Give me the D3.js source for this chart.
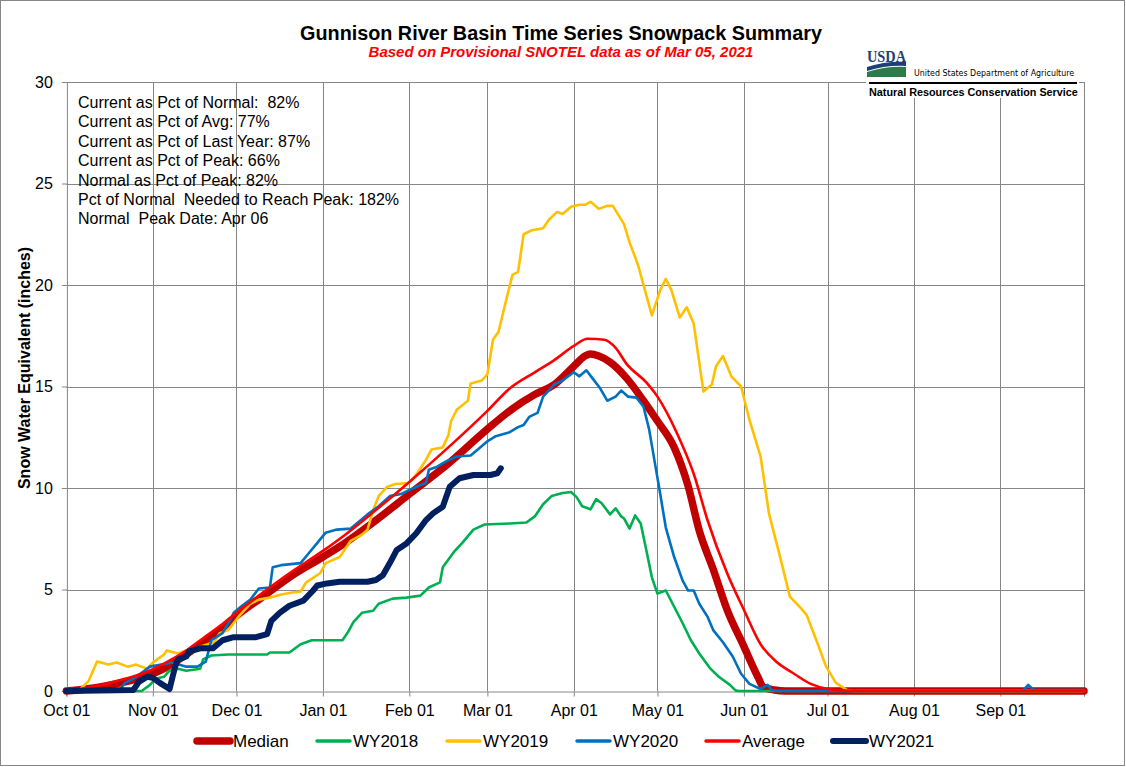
<!DOCTYPE html>
<html>
<head>
<meta charset="utf-8">
<script src="https://cdn.jsdelivr.net/npm/d3@7"></script>
<style>
  body { margin: 0; background: #fff; }
  svg { font-family: "Liberation Sans", Arial, sans-serif; }
  .axis path, .axis line { stroke: #868686; }
  .axis text { font-size: 16px; fill: #000; }
  .grid line { stroke: #868686; stroke-width: 1; }
  .line { fill: none; stroke-linejoin: round; stroke-linecap: round; }
</style>
</head>
<body>
<div id="graph"></div>
<script>
// days counted from Oct 01, snow water equivalent in inches
var monthDays = [0, 31, 61, 92, 123, 151, 182, 212, 243, 273, 304, 335];
var monthLabels = ["Oct 01", "Nov 01", "Dec 01", "Jan 01", "Feb 01", "Mar 01", "Apr 01", "May 01", "Jun 01", "Jul 01", "Aug 01", "Sep 01"];
var yTicks = [0, 5, 10, 15, 20, 25, 30];

var median = [[0,0],[7,0.1],[14,0.25],[21,0.45],[28,0.7],[35,1.1],[42,1.7],[49,2.4],[56,3.1],[61,3.7],[70,4.6],[80,5.6],[92,6.6],[100,7.3],[110,8.3],[123,9.7],[137,11.2],[151,12.9],[160,13.9],[168,14.6],[175,15.1],[182,16.0],[186,16.5],[188,16.6],[191,16.5],[195,16.2],[201,15.4],[207,14.3],[212,13.3],[218,12.0],[223,10.1],[227,7.9],[232,6.0],[237,4.0],[243,2.2],[248,0.7],[250,0.2],[254,0.05],[258,0],[365,0]];

var wy2018 = [[0,0],[2,0.1],[4,0],[27,0],[30,0.3],[32,0.6],[35,0.7],[37,1.0],[40,1.1],[43,1.0],[48,1.1],[49,1.55],[52,1.75],[58,1.8],[72,1.8],[73,1.9],[80,1.9],[84,2.3],[88,2.5],[99,2.5],[101,2.9],[103,3.4],[106,3.85],[110,3.95],[112,4.3],[117,4.55],[122,4.6],[127,4.7],[130,5.1],[134,5.35],[135,6.1],[139,6.85],[142,7.3],[146,7.95],[150,8.2],[159,8.25],[165,8.3],[168,8.6],[171,9.2],[174,9.6],[178,9.75],[181,9.8],[183,9.55],[185,9.1],[188,8.95],[190,9.45],[192,9.25],[195,8.7],[197,9.0],[199,8.6],[200,8.5],[202,8.0],[204,8.65],[206,8.25],[208,6.95],[210,5.6],[212,4.8],[215,4.95],[218,4.15],[221,3.35],[224,2.5],[227,1.85],[231,1.1],[234,0.7],[238,0.3],[240,0.03],[241,0],[365,0]];

var wy2019 = [[0,0],[5,0.1],[8,0.5],[11,1.45],[15,1.3],[18,1.4],[22,1.2],[25,1.3],[29,1.1],[31,1.4],[35,1.8],[36,2.0],[40,1.85],[43,2.0],[46,2.1],[53,2.4],[55,2.85],[58,3.0],[60,3.35],[62,3.7],[66,4.3],[69,4.5],[73,4.6],[77,4.75],[81,4.85],[84,4.9],[86,5.35],[91,5.8],[93,6.3],[98,6.6],[102,7.4],[106,7.7],[108,7.95],[110,8.9],[112,9.6],[115,10.05],[118,10.2],[123,10.25],[126,10.75],[129,11.4],[131,11.9],[135,12.0],[137,12.6],[138,13.3],[140,13.85],[144,14.3],[145,15.15],[149,15.3],[151,15.6],[153,17.3],[155,17.7],[158,19.4],[160,20.5],[162,20.65],[164,22.5],[167,22.7],[171,22.8],[173,23.2],[176,23.6],[178,23.5],[181,23.85],[184,23.95],[186,23.95],[188,24.1],[191,23.75],[194,23.9],[196,23.9],[200,23.0],[202,22.1],[205,21.0],[208,19.5],[210,18.5],[213,19.75],[215,20.3],[217,19.75],[220,18.4],[222.5,18.9],[225,18.1],[228.5,14.75],[231.5,15.1],[233,16.0],[235.5,16.5],[238.5,15.5],[242,15.0],[245,13.35],[249,11.55],[252,8.75],[256,6.6],[259.5,4.65],[263,4.15],[265.5,3.75],[269,2.5],[272.5,1.2],[276,0.4],[280,0.05],[282,0],[365,0]];

var wy2020 = [[0,0],[19,0],[21,0.4],[24,0.6],[27,0.9],[30,1.2],[34,1.3],[38,1.4],[43,1.2],[47,1.2],[50,1.45],[52,2.5],[56,2.85],[59,3.55],[60,3.85],[63,4.2],[66,4.5],[69,5.05],[73,5.1],[74,6.1],[77,6.2],[84,6.3],[87,6.8],[90,7.3],[93,7.8],[97,7.95],[102,8.0],[108,8.7],[112,9.1],[116,9.6],[120,9.7],[123,9.9],[127,10.15],[129,10.25],[130,10.9],[133,11.05],[136,11.3],[140,11.55],[145,11.6],[148,11.95],[151,12.3],[154,12.55],[159,12.75],[162,13.0],[164,13.1],[166,13.5],[169,13.7],[171,14.5],[175,15.1],[178,15.3],[182,15.7],[184,15.5],[186.5,15.8],[189,15.35],[191.5,14.9],[194,14.3],[197,14.5],[199,14.8],[201.5,14.5],[204.5,14.45],[207,14.0],[209,12.9],[211,11.3],[213,9.7],[215,8.05],[218,6.6],[221,5.45],[223,4.95],[225,4.95],[227,4.3],[230,3.65],[232,3.0],[235.5,2.4],[239,1.7],[242,0.85],[245,0.35],[249,0.1],[251.5,0.3],[253,0.05],[255,0],[343,0],[345,0.3],[347,0.05],[365,0.05]];

var average = [[0,0],[7,0.15],[14,0.35],[21,0.6],[28,0.9],[35,1.35],[42,1.9],[49,2.6],[56,3.3],[61,3.85],[70,4.8],[80,5.8],[92,6.9],[100,7.7],[110,8.8],[123,10.3],[137,12.0],[151,13.8],[159,14.9],[168,15.7],[175,16.3],[182,17.0],[187,17.35],[193,17.3],[197,16.9],[201,16.1],[208,15.2],[212,14.5],[219,12.7],[225,10.7],[230,8.4],[237,5.8],[243,4.0],[249,2.3],[255,1.4],[261,0.85],[267,0.35],[273,0.1],[278,0.03],[285,0],[365,0]];

var wy2021 = [[0,0],[24,0.05],[26,0.45],[29,0.7],[31,0.65],[33.5,0.4],[37,0.1],[39,1.2],[40,1.55],[43,1.7],[44,1.95],[48,2.1],[52.5,2.1],[56,2.5],[60,2.65],[68,2.65],[72,2.8],[73.5,3.45],[76.5,3.85],[80,4.2],[85,4.45],[88.5,4.95],[90,5.2],[93.5,5.3],[98,5.38],[108,5.38],[111,5.47],[113.5,5.7],[116,6.3],[118.5,6.95],[122,7.27],[125.5,7.77],[129,8.42],[131.5,8.75],[135,9.08],[137.5,10.06],[141,10.48],[146,10.64],[152,10.64],[154.5,10.72],[155.8,10.97]];

var seriesNames = ["Median", "WY2018", "WY2019", "WY2020", "Average", "WY2021"];
var seriesData = [median, wy2018, wy2019, wy2020, average, wy2021];
var seriesColors = ["#C00000", "#00B050", "#FFC000", "#0070C0", "#FF0000", "#002060"];
var seriesWidths = [7.5, 2.6, 2.6, 2.6, 2.6, 6];
var seriesSmooth = [true, false, false, false, true, false];

var statLines = [
  "Current as Pct of Normal:  82%",
  "Current as Pct of Avg: 77%",
  "Current as Pct of Last Year: 87%",
  "Current as Pct of Peak: 66%",
  "Normal as Pct of Peak: 82%",
  "Pct of Normal  Needed to Reach Peak: 182%",
  "Normal  Peak Date: Apr 06"
];

var W = 1126, H = 767;
var m = { left: 66.4, right: 1084, top: 82, bottom: 691 }; // plot box

var x = d3.scaleLinear().domain([0, 365]).range([m.left, m.right]);
var y = d3.scaleLinear().domain([0, 30]).range([m.bottom, m.top]);

var svg = d3.select("#graph").append("svg")
  .attr("width", W)
  .attr("height", H);

svg.append("rect")
  .attr("x", 0.5).attr("y", 0.5)
  .attr("width", W - 2).attr("height", H - 2)
  .attr("fill", "#fff")
  .attr("stroke", "#868686");

// grid
var grid = svg.append("g").attr("class", "grid");
grid.selectAll(".hg").data(yTicks.slice(1)).enter().append("line")
  .attr("x1", m.left).attr("x2", m.right)
  .attr("y1", function(d) { return Math.round(y(d)) + 0.5; })
  .attr("y2", function(d) { return Math.round(y(d)) + 0.5; });
grid.selectAll(".vg").data(monthDays.slice(1).concat([365])).enter().append("line")
  .attr("y1", m.top).attr("y2", m.bottom)
  .attr("x1", function(d) { return Math.round(x(d)) + 0.5; })
  .attr("x2", function(d) { return Math.round(x(d)) + 0.5; });

// axes
var xAxis = d3.axisBottom(x)
  .tickValues(monthDays.concat([365]))
  .tickSize(5)
  .tickPadding(5)
  .tickFormat(function(d, i) { return monthLabels[i] || ""; });
svg.append("g")
  .attr("class", "x axis")
  .attr("transform", "translate(0," + (m.bottom + 0.5) + ")")
  .call(xAxis)
  .call(function(g) { g.selectAll("text").attr("dy", "0.9em"); });

var yAxis = d3.axisLeft(y)
  .tickValues(yTicks)
  .tickSize(5)
  .tickPadding(9);
svg.append("g")
  .attr("class", "y axis")
  .attr("transform", "translate(" + (m.left + 0.5) + ",0)")
  .call(yAxis);

// USDA / NRCS block over the top right of the plot
svg.append("rect")
  .attr("x", 866).attr("y", 80)
  .attr("width", 213).attr("height", 18)
  .attr("fill", "#fff");
svg.append("line")
  .attr("x1", 869).attr("x2", 1077)
  .attr("y1", 83).attr("y2", 83)
  .attr("stroke", "#000").attr("stroke-width", 2);
svg.append("text")
  .attr("x", 869).attr("y", 96)
  .attr("font-size", "10.8px").attr("font-weight", "bold")
  .text("Natural Resources Conservation Service");
svg.append("text")
  .attr("x", 914).attr("y", 76)
  .attr("font-size", "8.8px").attr("font-family", "'DejaVu Sans Condensed', 'Liberation Sans', sans-serif")
  .text("United States Department of Agriculture");
svg.append("text")
  .attr("x", 867).attr("y", 62)
  .attr("font-size", "17px").attr("font-weight", "bold")
  .attr("font-family", "'Liberation Serif', serif")
  .attr("fill", "#1c3f76")
  .attr("textLength", 39)
  .attr("lengthAdjust", "spacingAndGlyphs")
  .text("USDA");
svg.append("path")
  .attr("d", "M867,67 Q886,61 906,62 L906,66 Q886,65 867,71 Z")
  .attr("fill", "#1c3f76");
svg.append("path")
  .attr("d", "M867,72 Q886,66 906,67 L906,77 L867,77 Z")
  .attr("fill", "#2f7a4a");

// title
svg.append("text")
  .attr("x", 561).attr("y", 40)
  .attr("text-anchor", "middle")
  .attr("font-size", "19.8px").attr("font-weight", "bold")
  .text("Gunnison River Basin Time Series Snowpack Summary");
svg.append("text")
  .attr("x", 561).attr("y", 57)
  .attr("text-anchor", "middle")
  .attr("font-size", "15px").attr("font-weight", "bold").attr("font-style", "italic")
  .attr("fill", "#FF0000")
  .text("Based on Provisional SNOTEL data as of Mar 05, 2021");

// y axis title
svg.append("text")
  .attr("transform", "translate(30,368) rotate(-90)")
  .attr("text-anchor", "middle")
  .attr("font-size", "16px").attr("font-weight", "bold")
  .text("Snow Water Equivalent (inches)");

// stats
svg.append("g").selectAll("text").data(statLines).enter().append("text")
  .attr("x", 78)
  .attr("y", function(d, i) { return 108 + i * 19.4; })
  .attr("font-size", "16px")
  .style("white-space", "pre")
  .text(function(d) { return d; });

// series
var line = d3.line()
  .x(function(d) { return x(d[0]); })
  .y(function(d) { return y(d[1]); });
var smoothLine = d3.line()
  .curve(d3.curveMonotoneX)
  .x(function(d) { return x(d[0]); })
  .y(function(d) { return y(d[1]); });

svg.append("g").selectAll("path").data(seriesData).enter().append("path")
  .attr("class", "line")
  .attr("d", function(d, i) { return seriesSmooth[i] ? smoothLine(d) : line(d); })
  .attr("stroke", function(d, i) { return seriesColors[i]; })
  .attr("stroke-width", function(d, i) { return seriesWidths[i]; });

// legend
var legendX = [197, 317, 447, 577, 706, 833];
var legend = svg.append("g").attr("transform", "translate(0,741)");
var item = legend.selectAll("g").data(seriesNames).enter().append("g")
  .attr("transform", function(d, i) { return "translate(" + legendX[i] + ",0)"; });
item.append("line")
  .attr("x1", 0).attr("x2", 33)
  .attr("stroke", function(d, i) { return seriesColors[i]; })
  .attr("stroke-width", function(d, i) { return Math.max(seriesWidths[i], 3.5); })
  .attr("stroke-linecap", "round");
item.append("text")
  .attr("x", 36).attr("dy", "0.36em")
  .attr("font-size", "17px")
  .text(function(d) { return d; });
</script>
</body>
</html>
